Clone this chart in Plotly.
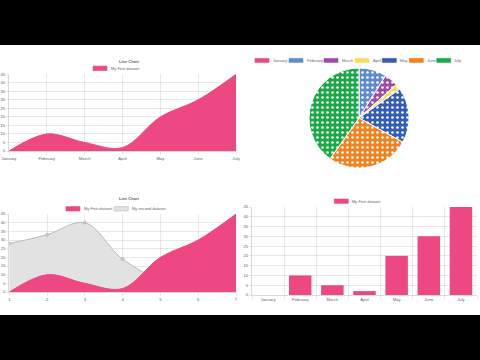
import plotly.graph_objects as go

months = ["January", "February", "March", "April", "May", "June", "July"]
nums = ["1", "2", "3", "4", "5", "6", "7"]
first_dataset = [0, 10, 5, 2, 20, 30, 45]
second_dataset = [28, 33, 40, 19, 8, 12, 20]
pie_colors = ["rgb(236,72,128)", "rgb(96,138,206)", "rgb(156,74,166)", "rgb(246,222,86)",
              "rgb(52,92,178)", "rgb(240,130,32)", "rgb(28,168,72)"]
y_ticks = [0, 5, 10, 15, 20, 25, 30, 35, 40, 45]
first_label = "My First dataset"
second_label = "My second dataset"
chart_title = "Line Chart"

PINK = "rgb(238,72,130)"
GRAY_FILL = "rgb(226,226,226)"
GRAY_LINE = "rgb(185,185,185)"
GRID = "rgba(0,0,0,0.09)"
TXT = "#666"
FONT = "Liberation Sans, Arial, sans-serif"
W, H = 480, 360


def px(x):
    return x / W


def py(y):
    return 1 - y / H


fig = go.Figure()

# Panel 1: line chart
fig.add_trace(go.Scatter(x=months, y=first_dataset, mode="lines",
                         line=dict(color=PINK, shape="spline", smoothing=1, width=1),
                         fill="tozeroy", fillcolor=PINK, name=first_label,
                         xaxis="x", yaxis="y"))

# Panel 2: pie
fig.add_trace(go.Pie(labels=months, values=first_dataset, sort=False, direction="clockwise",
                     rotation=0, textinfo="none",
                     marker=dict(colors=pie_colors, line=dict(color="white", width=1),
                                 pattern=dict(shape=".", fgcolor="white", bgcolor=pie_colors,
                                              size=5, solidity=0.22, fillmode="replace")),
                     domain=dict(x=[px(308), px(410)], y=[py(168), py(68)])))

# Panel 3: two datasets
fig.add_trace(go.Scatter(x=nums, y=second_dataset, mode="lines",
                         line=dict(color=GRAY_LINE, shape="spline", smoothing=1, width=1),
                         fill="tozeroy", fillcolor=GRAY_FILL, name=second_label,
                         xaxis="x2", yaxis="y2"))
fig.add_trace(go.Scatter(x=nums, y=second_dataset, mode="markers",
                         marker=dict(color="rgb(205,205,205)", size=3,
                                     line=dict(color="rgb(160,160,160)", width=0.5)),
                         xaxis="x2", yaxis="y2"))
fig.add_trace(go.Scatter(x=nums, y=first_dataset, mode="lines",
                         line=dict(color=PINK, shape="spline", smoothing=1, width=1),
                         fill="tozeroy", fillcolor=PINK, name=first_label,
                         xaxis="x2", yaxis="y2"))

# Panel 4: bars
fig.add_trace(go.Bar(x=months, y=first_dataset, marker=dict(color=PINK, line=dict(width=0)),
                     name=first_label, xaxis="x3", yaxis="y3"))

axis_common = dict(gridcolor=GRID, gridwidth=1, tickfont=dict(size=4.2, color=TXT, family=FONT),
                   ticks="outside", ticklen=3, tickcolor=GRID, showline=True,
                   linecolor="rgba(0,0,0,0.15)", linewidth=1, zeroline=False, fixedrange=True)
yax = dict(axis_common, range=[0, 45], tickvals=y_ticks, ticklen=2)

# Chart.js-style legends (box + label)
shapes = [dict(type="rect", xref="paper", yref="paper", x0=0, x1=1, y0=py(315), y1=py(45),
               fillcolor="white", line=dict(width=0), layer="below")]
annotations = []


def legend_item(x0, yc, label, fill, border, box_w=14, box_h=4.4):
    shapes.append(dict(type="rect", xref="paper", yref="paper",
                       x0=px(x0), x1=px(x0 + box_w), y0=py(yc + box_h / 2), y1=py(yc - box_h / 2),
                       fillcolor=fill, line=dict(color=border, width=0.6)))
    annotations.append(dict(text=label, x=px(x0 + box_w + 1.6), y=py(yc), xref="paper", yref="paper",
                            xanchor="left", yanchor="middle", showarrow=False,
                            font=dict(size=4, color=TXT, family=FONT)))


legend_item(93, 68.3, first_label, PINK, PINK)
legend_item(66, 208.8, first_label, PINK, PINK)
legend_item(114.3, 208.8, second_label, GRAY_FILL, GRAY_LINE)
legend_item(334.3, 201.2, first_label, PINK, PINK)
pie_legend_x = [255, 289, 324, 355, 382.3, 409.3, 436.7]
for xx, lab, col in zip(pie_legend_x, months, pie_colors):
    legend_item(xx, 60.4, lab, col, col, box_h=4)

for ty in (57, 198):
    annotations.append(dict(text="<b>" + chart_title + "</b>", x=px(117), y=py(ty), xref="paper",
                            yref="paper", showarrow=False, font=dict(size=4, color=TXT, family=FONT)))

fig.update_layout(
    width=W, height=H, margin=dict(l=0, r=0, t=0, b=0, autoexpand=False),
    paper_bgcolor="black", plot_bgcolor="white",
    font=dict(family=FONT, color=TXT),
    showlegend=False,
    bargap=0.3,
    xaxis=dict(axis_common, domain=[px(9), px(236)], range=[0, 6], anchor="y"),
    yaxis=dict(yax, domain=[py(151), py(74.3)], anchor="x"),
    xaxis2=dict(axis_common, domain=[px(9.3), px(236)], range=[0, 6], anchor="y2"),
    yaxis2=dict(yax, domain=[py(292), py(214)], anchor="x2"),
    xaxis3=dict(axis_common, domain=[px(252), px(477)], tickson="boundaries", anchor="y3"),
    yaxis3=dict(yax, domain=[py(295), py(207)], anchor="x3"),
    shapes=shapes,
    annotations=annotations,
)

fig.write_html("out.html", config={"displayModeBar": False, "responsive": False},
               post_script="document.body.style.margin='0';document.body.style.overflow='hidden';")
